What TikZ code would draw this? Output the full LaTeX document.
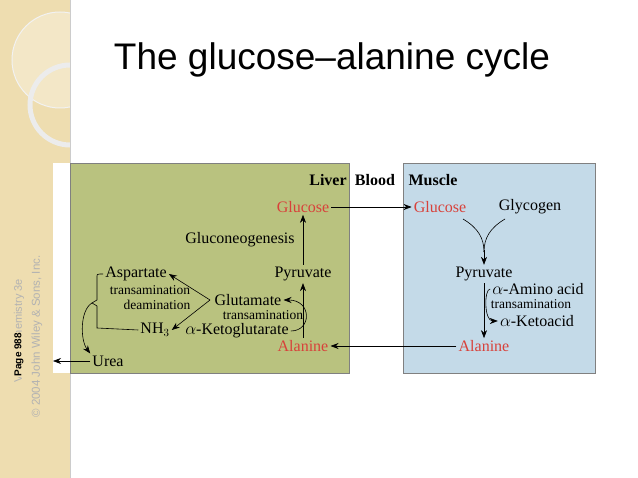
\documentclass[tikz,border=0pt]{standalone}
\usepackage{fontspec}
\setmainfont{Liberation Serif}
\newfontfamily\sansf{Liberation Sans}
\usetikzlibrary{arrows.meta}
\definecolor{beige}{HTML}{EEDDB0}
\definecolor{liverg}{HTML}{B9C27F}
\definecolor{musb}{HTML}{C4DAE8}
\definecolor{redt}{HTML}{D8413A}
\begin{document}
\begin{tikzpicture}[x=1pt,y=-1pt,
  t/.style={font=\fontsize{16}{17}\selectfont, inner sep=2pt},
  s/.style={font=\fontsize{13.5}{14}\selectfont, inner sep=0.5pt},
  b/.style={t, font=\fontsize{16}{17}\selectfont\bfseries},
  r/.style={t, text=redt},
  ar/.style={-{Stealth[length=8pt,width=6pt]}, line width=0.6pt},
  ln/.style={line width=0.6pt}]
\useasboundingbox (0,0) rectangle (638,478);
\fill[white] (0,0) rectangle (638,478);
\fill[beige] (0,0) rectangle (70,478);
\begin{scope}
\clip (0,0) rectangle (70,478);
\fill[white, opacity=0.3] (60,60) circle (48);
\draw[white!90!gray, line width=1pt] (60,60) circle (48);
\draw[white!85!gray, line width=5pt] (70,105) circle (40);
\end{scope}
\draw[gray!40] (70,0) -- (70,478);
\node[font=\sansf\fontsize{11.5}{12}\selectfont, text=gray!60, rotate=90, anchor=west] (cp) at (37,421) {\textcopyright\ 2004 John Wiley \& Sons, Inc.};
\node[font=\sansf\fontsize{11}{12}\selectfont, text=gray!60, rotate=90, anchor=west] (vp) at (19,386) {Voet Biochemistry 3e};
\node[font=\sansf\bfseries\fontsize{10}{11}\selectfont, rotate=90, anchor=west, fill=beige, inner sep=0.5pt] (pg) at (19,377) {Page 988};
\node[font=\sansf\fontsize{37}{39}\selectfont] (title) at (332,60) {The glucose–alanine cycle};
\fill[white] (53,163) rectangle (70,373);
\draw[fill=liverg, draw=gray] (70,163) rectangle (349,373);
\draw[fill=musb, draw=gray] (403,163) rectangle (595,373);
\node[b] (liver) at (328,180) {Liver};
\node[b] (blood) at (375,180) {Blood};
\node[b] (muscle) at (433,180) {Muscle};
\node[r] (glL) at (303,207) {Glucose};
\node[r] (glM) at (440,207) {Glucose};
\node[t] (gly) at (530,207) {Glycogen};
\node[t] (gng) at (240,240) {Gluconeogenesis};
\node[t] (pyL) at (303,274) {Pyruvate};
\node[t] (asp) at (136,274) {Aspartate};
\node[s] (tr1) at (150,290) {transamination};
\node[s] (dea) at (157,305) {deamination};
\node[t] (glu) at (248,300) {Glutamate};
\node[s] (tr2) at (263,315) {transamination};
\node[t] (nh3) at (155,330) {NH$_3$};
\node[t] (akg) at (237,331) {$\alpha$-Ketoglutarate};
\node[r] (alL) at (303,346) {Alanine};
\node[t] (urea) at (108,361) {Urea};
\node[t] (pyM) at (484,274) {Pyruvate};
\node[t] (aaa) at (538,289) {$\alpha$-Amino acid};
\node[s] (tr3) at (531,304) {transamination};
\node[t] (kta) at (537,321) {$\alpha$-Ketoacid};
\node[r] (alM) at (484,346) {Alanine};
\coordinate (uend) at (53,361);
% liver
\draw[ar] (alL) -- (pyL);
\draw[ar] (pyL) -- (glL);
\draw[ar] (glL) -- (glM);
\draw[ar] (alM) -- (alL);
\draw[ar] (urea) -- (uend);
\draw[ar] (akg.east) .. controls (312,331) and (312,300) .. (glu.east);
\draw[ar] (210,300) -- (asp.east);
\draw[ar] (210,300) -- (nh3.east);
\draw[ln] (asp.west) -- (100,274) .. controls (97,274) .. (97,278) -- (97,300) -- (92,303) -- (97,306) -- (97,328) -- (nh3.west);
\draw[ar] (92,303) .. controls (80,310) and (80,340) .. (urea.north west);
% muscle
\draw[ln] (463,219) .. controls (478,228) and (484,238) .. (484,252);
\draw[ln] (505,219) .. controls (490,228) and (484,238) .. (484,252);
\draw[ar] (484,250) -- (pyM);
\draw[ar] (pyM) -- (alM);
\draw[ar] (aaa.west) .. controls (484,289) and (484,321) .. (kta.west);
\end{tikzpicture}
\end{document}
